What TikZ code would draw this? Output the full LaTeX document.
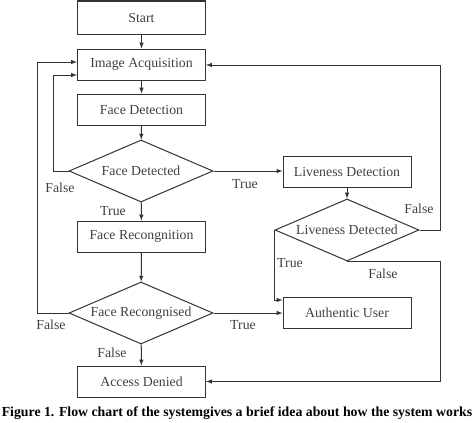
\documentclass[tikz,border=0pt]{standalone}
\usepackage{fontspec}
\setmainfont{Liberation Serif}
\usepackage{tikz}
\usetikzlibrary{calc,shapes.geometric}

\begin{document}
\begin{tikzpicture}[x=1pt,y=-1pt,line width=1pt,draw=black!80,>=latex,
            font=\fontsize{13.8}{16}\selectfont,
            box/.style={draw,rectangle,minimum width=128pt,minimum height=31pt,inner sep=0pt,text=black!75,name=#1},
            decision/.style={draw,diamond,aspect=2.3,minimum width=144pt,minimum height=62pt,inner sep=0pt,text=black!75,name=#1},
            lbl/.style={inner sep=0pt,text=black!75}]

        \useasboundingbox (0,0) rectangle (474,423);

        \node [box=start, minimum height=33pt] at (141.5,17.5) {Start};
        \node [box=imgacq] at (141.5,64.5) {Image Acquisition};
        \node [box=facedet] at (141.5,109.5) {Face Detection};
        \node [decision=fdetected] at (141,171) {Face Detected};
        \node [box=facerec] at (141.5,236.5) {Face Recongnition};
        \node [decision=frecog] at (141,313) {Face Recongnised};
        \node [box=denied] at (141.5,381.5) {Access Denied};

        \node [box=liveness] at (347,171.5) {Liveness Detection};
        \node [decision=ldetected] at (347,230) {Liveness Detected};
        \node [box=authentic] at (347,313) {Authentic User};

        \coordinate (inloop) at (53,75);
        \coordinate (outloop) at (37,62);
        \coordinate (rcol) at (440,65);

        \draw [->] (start) -- (imgacq);
        \draw [->] (imgacq) -- (facedet);
        \draw [->] (facedet) -- (fdetected);
        \draw [->] (fdetected) -- (facerec);
        \draw [->] (facerec) -- (frecog);
        \draw [->] (frecog) -- (denied);
        \draw [->] (fdetected.west) -| (inloop) -- (inloop -| imgacq.west);
        \draw [->] (frecog.west) -| (outloop) -- (outloop -| imgacq.west);
        \draw [->] (fdetected.east) -- (liveness.west |- fdetected.east);
        \draw [->] (liveness) -- (ldetected);
        \draw [->] (ldetected.east) -| (rcol) -- (imgacq.east |- rcol);
        \draw [->] (ldetected.west) |- ([yshift=-3pt]authentic.north west);
        \draw [->] (ldetected.south) -| (rcol |- denied.east) -- (denied.east);
        \draw [->] (frecog.east) -- (authentic.west);

        \node [lbl] at (60,188) (f1) {False};
        \node [lbl] at (113,211) (t1) {True};
        \node [lbl] at (245,184) (t2) {True};
        \node [lbl] at (419,209) (f2) {False};
        \node [lbl] at (290,263) (t3) {True};
        \node [lbl] at (383,274) (f3) {False};
        \node [lbl] at (51,325) (f4) {False};
        \node [lbl] at (243,325) (t4) {True};
        \node [lbl] at (112,353) (f5) {False};

        \node [inner sep=0pt] at (237,413) (caption) {\bfseries Figure 1. Flow chart of the systemgives a brief idea about how the system works};

    \end{tikzpicture}
\end{document}
